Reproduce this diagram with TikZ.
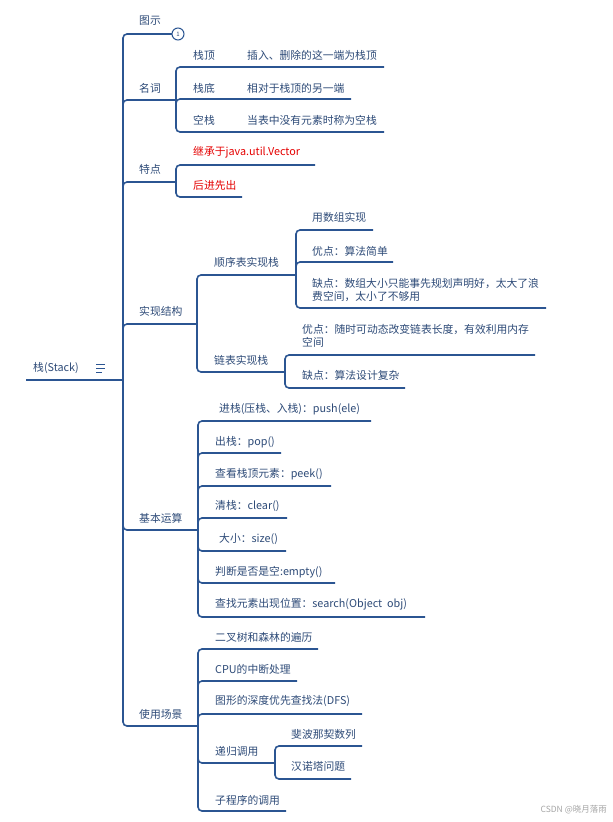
\documentclass[tikz,border=0pt]{standalone}
\usepackage{fontspec}
\setmainfont{Noto Sans CJK SC}
\begin{document}
\begin{tikzpicture}[x=1pt,y=-1pt,
  br/.style={draw=lc,line width=1.6pt,rounded corners=4pt},
  lab/.style={anchor=west,inner sep=0pt,text=tc,font=\fontsize{10.8}{13.5}\selectfont},
  redlab/.style={lab,text=red!90!black}]
\definecolor{lc}{HTML}{2B5592}
\definecolor{tc}{HTML}{2E4B78}
\useasboundingbox[fill=white] (0,0) rectangle (613,822);
% root
\node[lab] (root) at (33,368) {栈(Stack)};
\draw[lc,line width=1pt] (96,364)--(105,364) (96,368)--(105,368) (96,372)--(102,372);
\draw[br] (26,380) -- (123,380);
\coordinate (T) at (123,380);
\newcommand\kid[4]{% px,py,cy,xe
  \draw[br] (#1,#2) -- (#1,#3) -- (#4,#3);}
\kid{123}{380}{34}{172}
\node[lab] (tushi) at (139,21) {图示};
\draw[lc,line width=1pt,fill=white] (178,34) circle (6);
\node[text=tc,font=\fontsize{6}{6}\selectfont,inner sep=0pt] (c1) at (178,34) {1};
\kid{123}{380}{100}{176}
\node[lab] (mingci) at (139,88) {名词};
\kid{123}{380}{182}{176}
\node[lab] (tedian) at (139,169) {特点};
\kid{123}{380}{324}{197}
\node[lab] (shixian) at (139,311) {实现结构};
\kid{123}{380}{530}{198}
\node[lab] (jiben) at (139,518) {基本运算};
\kid{123}{380}{726}{198}
\node[lab] (shiyong) at (139,714) {使用场景};
% 名词
\kid{176}{100}{67}{384}
\node[lab] (a1) at (193,55) {栈顶};
\node[lab] (a1b) at (247,55) {插入、删除的这一端为栈顶};
\kid{176}{100}{99}{351}
\node[lab] (a2) at (193,88) {栈底};
\node[lab] (a2b) at (247,88) {相对于栈顶的另一端};
\kid{176}{100}{132}{384}
\node[lab] (a3) at (193,120) {空栈};
\node[lab] (a3b) at (247,120) {当表中没有元素时称为空栈};
% 特点
\kid{176}{182}{165}{315}
\node[redlab] (b1) at (193,152) {继承于java.util.Vector};
\kid{176}{182}{197}{242}
\node[redlab] (b2) at (193,185) {后进先出};
% 实现结构
\kid{197}{324}{275}{296}
\node[lab] (c1a) at (214,262) {顺序表实现栈};
\kid{197}{324}{372}{285}
\node[lab] (c2a) at (214,360) {链表实现栈};
\kid{296}{275}{230}{373}
\node[lab] (d1) at (312,217) {用数组实现};
\kid{296}{275}{262}{393}
\node[lab] (d2) at (312,251) {优点：算法简单};
\kid{296}{275}{308}{546}
\node[lab,align=left] (d3) at (312,290) {缺点：数组大小只能事先规划声明好，太大了浪\\费空间，太小了不够用};
\kid{285}{372}{355}{535}
\node[lab,align=left] (e1) at (302,336) {优点：随时可动态改变链表长度，有效利用内存\\空间};
\kid{285}{372}{388}{405}
\node[lab] (e2) at (302,375) {缺点：算法设计复杂};
% 基本运算
\kid{198}{530}{421}{371}
\node[lab] (f1) at (219,409) {进栈(压栈、入栈)：push(ele)};
\kid{198}{530}{453}{281}
\node[lab] (f2) at (215,442) {出栈：pop()};
\kid{198}{530}{486}{331}
\node[lab] (f3) at (215,474) {查看栈顶元素：peek()};
\kid{198}{530}{518}{287}
\node[lab] (f4) at (215,506) {清栈：clear()};
\kid{198}{530}{551}{286}
\node[lab] (f5) at (219,539) {大小：size()};
\kid{198}{530}{583}{335}
\node[lab] (f6) at (215,572) {判断是否是空:empty()};
\kid{198}{530}{617}{425}
\node[lab] (f7) at (215,604) {查找元素出现位置：search(Object\ \ obj)};
% 使用场景
\kid{198}{726}{649}{318}
\node[lab] (g1) at (215,637) {二叉树和森林的遍历};
\kid{198}{726}{681}{297}
\node[lab] (g2) at (215,669) {CPU的中断处理};
\kid{198}{726}{714}{362}
\node[lab] (g3) at (215,701) {图形的深度优先查找法(DFS)};
\kid{198}{726}{763}{275}
\node[lab] (g4) at (215,751) {递归调用};
\kid{198}{726}{811}{286}
\node[lab] (g5) at (215,800) {子程序的调用};
\kid{275}{763}{746}{362}
\node[lab] (h1) at (291,734) {斐波那契数列};
\kid{275}{763}{779}{351}
\node[lab] (h2) at (291,766) {汉诺塔问题};
% watermark
\node[anchor=east,inner sep=0pt,text=gray!70,font=\fontsize{8.5}{10}\selectfont] (wm) at (607,810) {CSDN @晓月落雨};
\end{tikzpicture}
\end{document}
